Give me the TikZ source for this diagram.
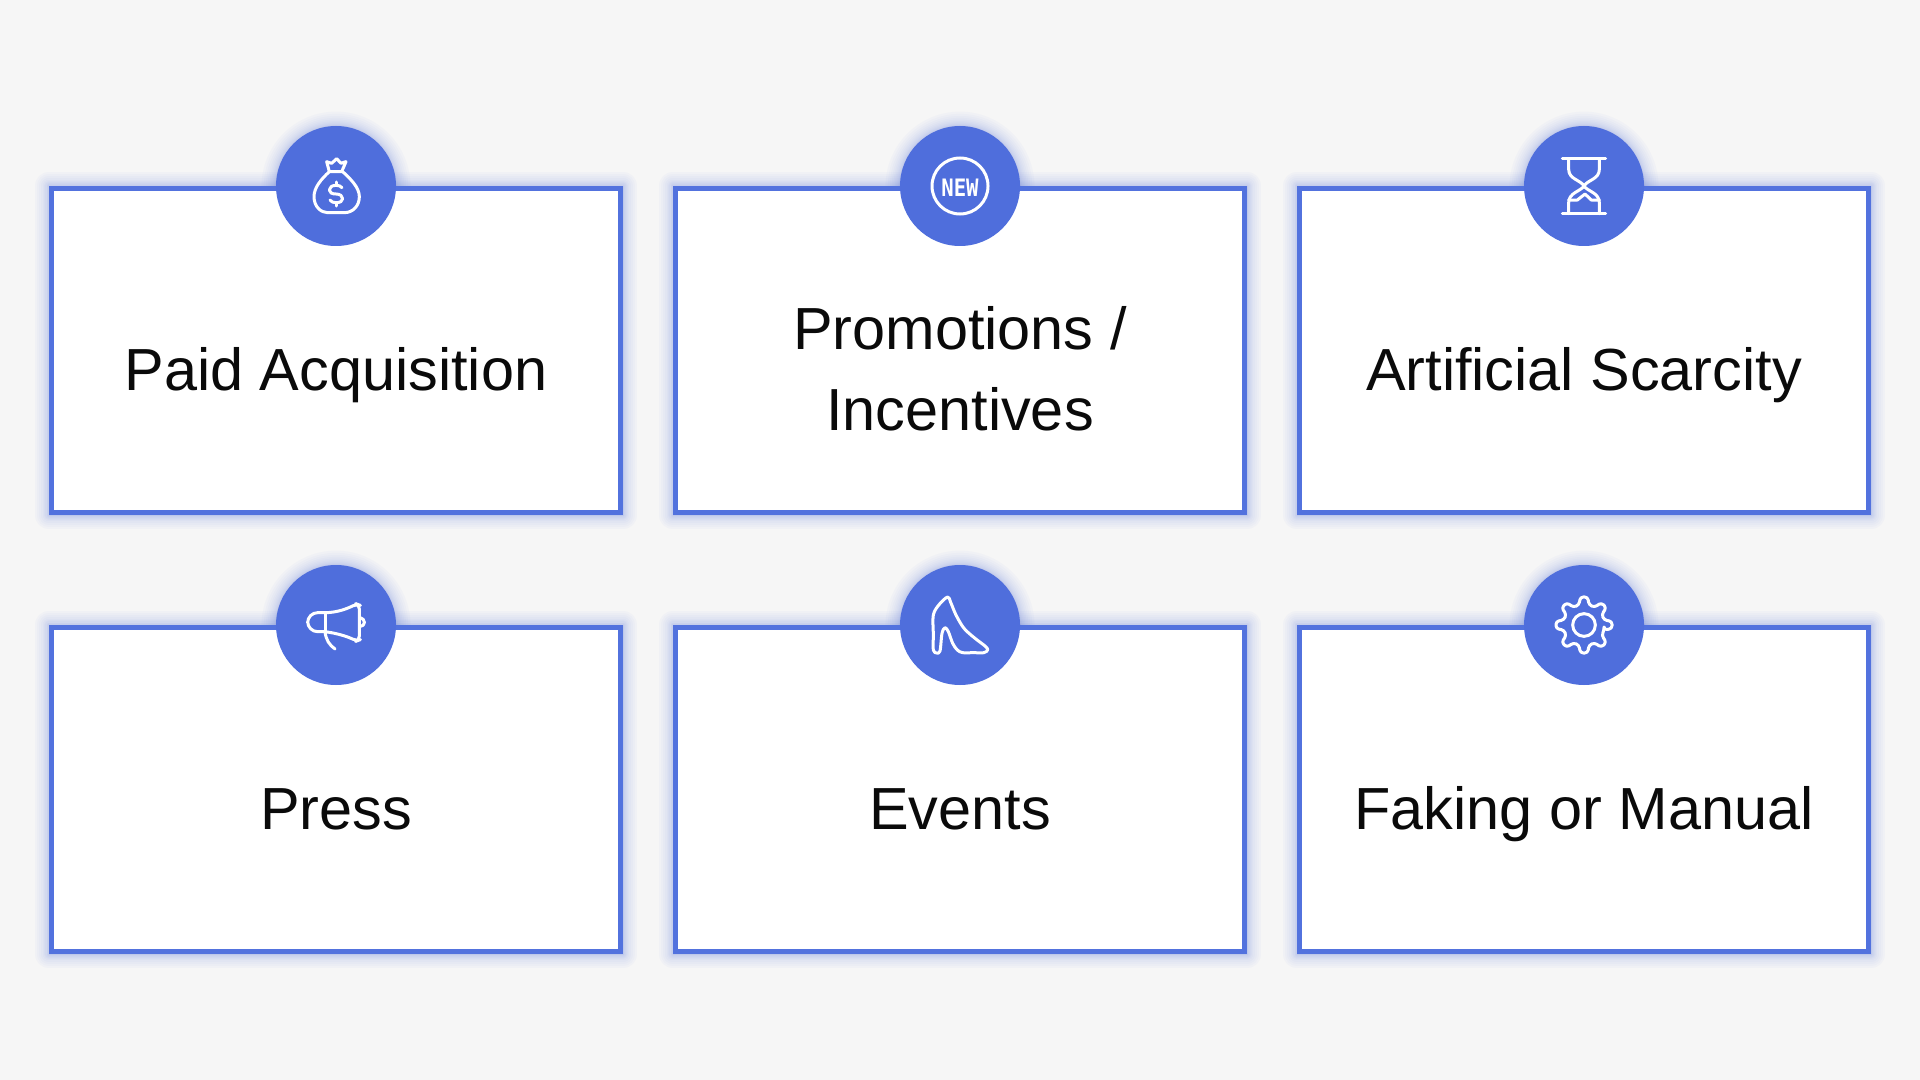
\documentclass[tikz,border=0pt]{standalone}
\usepackage{fontspec}
\setmainfont{Liberation Sans}
\newfontfamily\sealfont{DejaVu Sans Mono}
\usetikzlibrary{positioning, backgrounds}

\definecolor{pagegray}{HTML}{F6F6F6}
\definecolor{cardblue}{HTML}{5272DE}
\definecolor{badgeblue}{HTML}{4F6EDC}
\definecolor{inkblack}{HTML}{0A0A0A}

\tikzset{
  card/.style={draw=cardblue, line width=2.5pt, fill=white, minimum width=284.5pt, minimum height=162pt, inner sep=0pt},
  badge/.style={circle, fill=badgeblue, minimum size=60pt, inner sep=0pt, outer sep=0pt},
  cardtext/.style={align=center, text=inkblack, font=\fontsize{29.7pt}{40.5pt}\selectfont},
  icon/.style={shift={(#1.center)}, x=0.1667pt, y=0.1667pt, draw=white, line width=1.5pt, line cap=round, line join=round},
  glow/.style={draw=cardblue, opacity=0.03, line join=round}
}

\begin{document}
\begin{tikzpicture}
  \useasboundingbox (0,0) rectangle (960pt,-540pt);

  % Define nodes
  \node[card] (paid) at (168pt,-175.25pt) {};
  \node[card, right=25pt of paid] (promo) {};
  \node[card, right=25pt of promo] (scarcity) {};
  \node[card, below=55pt of paid] (press) {};
  \node[card, below=55pt of promo] (events) {};
  \node[card, below=55pt of scarcity] (faking) {};

  \node[badge] (paid_icon) at (paid.north) {};
  \node[badge] (promo_icon) at (promo.north) {};
  \node[badge] (scarcity_icon) at (scarcity.north) {};
  \node[badge] (press_icon) at (press.north) {};
  \node[badge] (events_icon) at (events.north) {};
  \node[badge] (faking_icon) at (faking.north) {};

  \node[cardtext] (paid_text) at ([yshift=-11.8pt]paid.center) {\strut Paid Acquisition};
  \node[cardtext] (promo_text) at ([yshift=-11.8pt]promo.center) {\strut Promotions /\\\strut Incentives};
  \node[cardtext] (scarcity_text) at ([yshift=-11.8pt]scarcity.center) {\strut Artificial Scarcity};
  \node[cardtext] (press_text) at ([yshift=-11.8pt]press.center) {\strut Press};
  \node[cardtext] (events_text) at ([yshift=-11.8pt]events.center) {\strut Events};
  \node[cardtext] (faking_text) at ([yshift=-11.8pt]faking.center) {\strut Faking or Manual};

  % Glow behind the cards
  \begin{scope}[on background layer]
    \fill[pagegray] (0,0) rectangle (960pt,-540pt);
    \foreach \n in {paid, promo, scarcity, press, events, faking} {
      \foreach \g in {1,...,12} {
        \draw[glow, line width=\g*\g*0.1pt] (\n.south west) rectangle (\n.north east);
        \draw[glow, line width=\g*\g*0.1pt] (\n_icon) circle (30pt);
      }
    }
  \end{scope}

  % Money bag
  \begin{scope}[icon=paid_icon]
    \draw (-28,73) -- (-13,68) -- (2,82) -- (15,68) -- (30,73) -- (17,43) -- (-20,43) -- cycle;
    \draw (-20,43) .. controls (-45,20) and (-66,-5) .. (-66,-32) .. controls (-66,-62) and (-45,-80) .. (-25,-80) -- (25,-80) .. controls (50,-80) and (70,-60) .. (70,-32) .. controls (70,-5) and (45,20) .. (20,43);
    \draw (18,-5) .. controls (14,0) and (8,2) .. (0,2) .. controls (-12,2) and (-20,-4) .. (-20,-12) .. controls (-20,-20) and (-12,-24) .. (0,-24) .. controls (12,-24) and (20,-30) .. (20,-38) .. controls (20,-46) and (12,-50) .. (0,-50) .. controls (-8,-50) and (-14,-48) .. (-18,-42);
    \draw (0,2) -- (0,12) (0,-50) -- (0,-60);
  \end{scope}

  % New seal
  \begin{scope}[icon=promo_icon]
    \draw (0,0) circle (84);
    \node[inner sep=0pt, text=white, xscale=0.86, font=\sealfont\bfseries\fontsize{12pt}{12pt}\selectfont] (promo_new) at (0,-4) {NEW};
  \end{scope}

  % Hourglass
  \begin{scope}[icon=scarcity_icon]
    \draw (-65,82) -- (65,82) (-65,-83) -- (65,-83);
    \draw (-46,82) -- (-46,50) .. controls (-46,20) and (-10,18) .. (0,0) .. controls (10,-16) and (46,-20) .. (46,-50) -- (46,-83);
    \draw (46,82) -- (46,50) .. controls (46,20) and (10,18) .. (0,0) .. controls (-10,-16) and (-46,-20) .. (-46,-50) -- (-46,-83);
    \draw (-46,-42) -- (-20,-42) -- (3,-24) -- (22,-42) -- (46,-42);
  \end{scope}

  % Megaphone
  \begin{scope}[icon=press_icon]
    \draw (-33,37) -- (-33,-20);
    \draw[rounded corners=5pt] (-33,37) -- (-85,37) -- (-85,-20) -- (-33,-20);
    \draw[rounded corners=2pt] (-33,37) .. controls (5,37) and (35,50) .. (62,63) -- (70,60) -- (70,-45) -- (62,-48) .. controls (35,-35) and (5,-25) .. (-33,-20);
    \draw (71,23) .. controls (90,18) and (90,-3) .. (71,-5);
    \draw (-33,-20) .. controls (-30,-45) and (-20,-60) .. (-3,-72);
  \end{scope}

  % High heel
  \begin{scope}[icon=events_icon]
    \draw plot[smooth cycle, tension=0.55] coordinates {(-37,84) (-62,62) (-80,30) (-80,-30) (-80,-75) (-70,-84) (-60,-78) (-54,-25) (-45,-8) (-35,-20) (-22,-55) (-8,-75) (8,-83) (40,-83) (72,-83) (83,-74) (75,-63) (45,-40) (12,-10) (-12,30) (-28,68)};
  \end{scope}

  % Gear
  \begin{scope}[icon=faking_icon]
    \draw (0,0) circle (34);
    \draw[rounded corners=1.5pt] (-14:62) \foreach \a in {0,45,...,315} {-- ([shift={(\a:84)}]\a-90:11) -- ([shift={(\a:84)}]\a+90:11) -- (\a+14:62) -- (\a+31:62)} -- cycle;
  \end{scope}

\end{tikzpicture}
\end{document}
